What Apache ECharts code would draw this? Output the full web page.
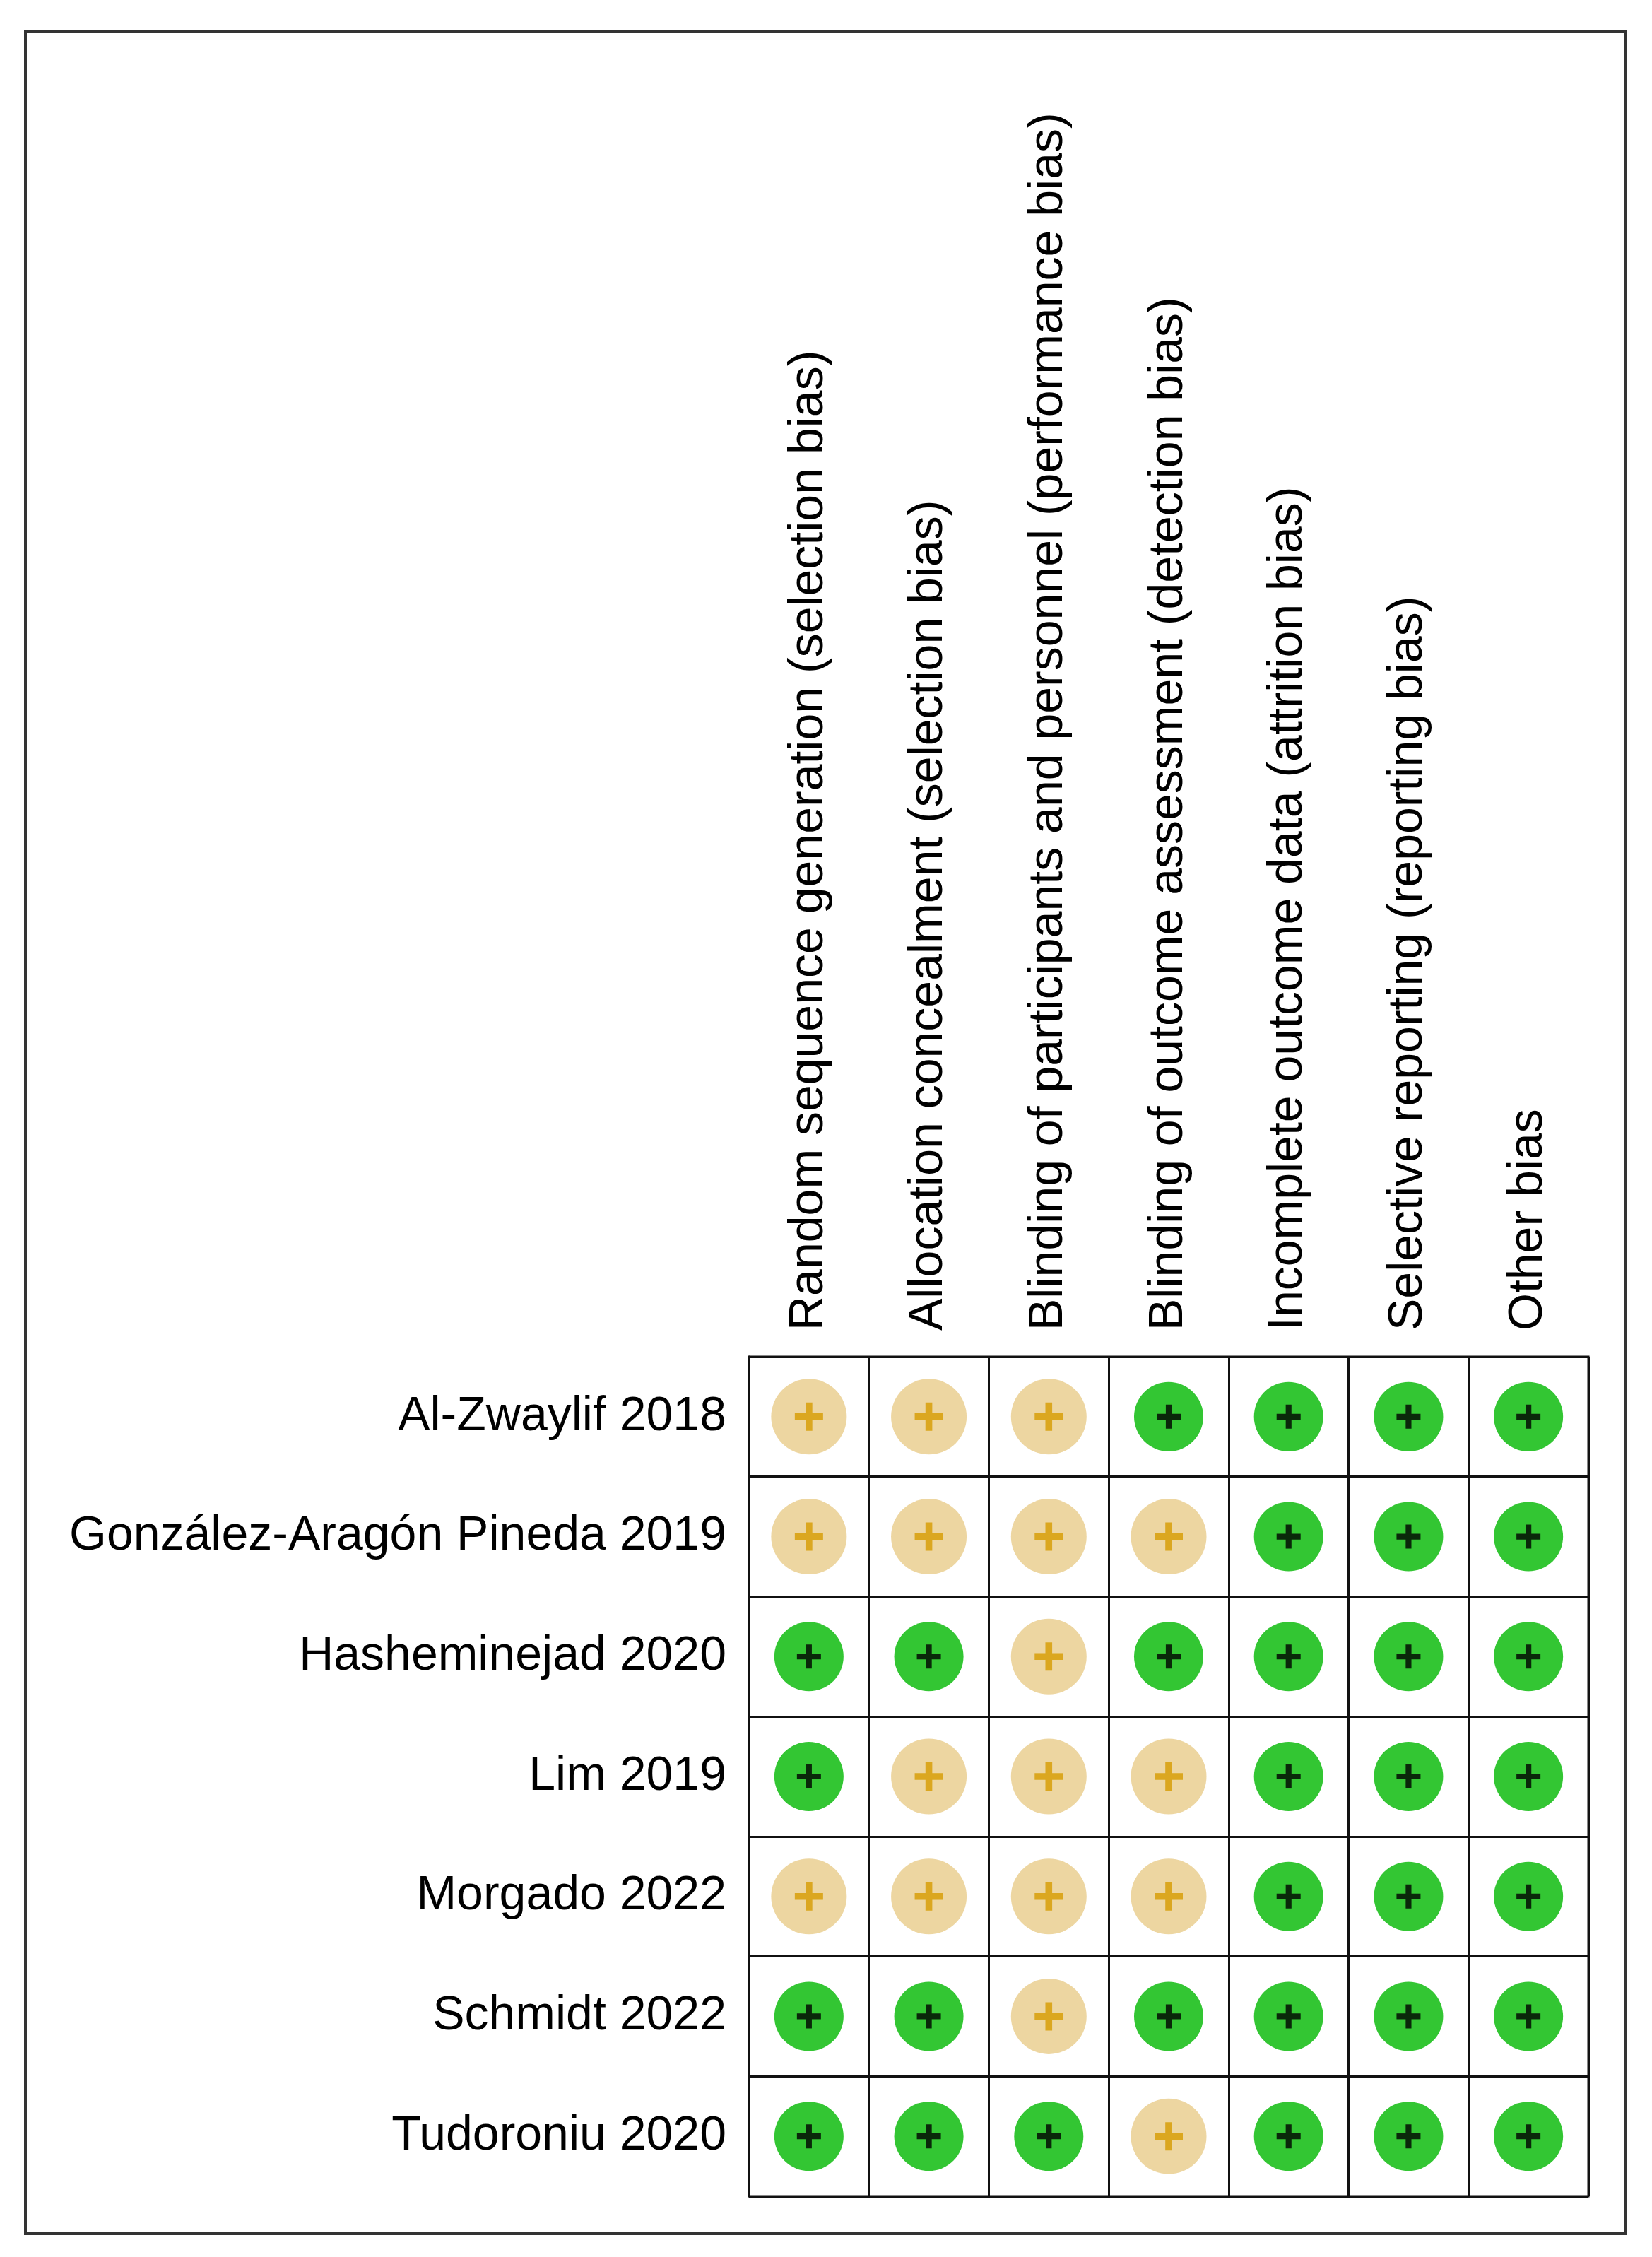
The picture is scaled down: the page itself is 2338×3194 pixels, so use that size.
<!DOCTYPE html>
<html>
<head>
<meta charset="utf-8">
<script src="https://cdn.jsdelivr.net/npm/echarts@6/dist/echarts.min.js"></script>
<style>
html,body{margin:0;padding:0;background:#fff;}
#chart{width:2338px;height:3194px;}
</style>
</head>
<body>
<div id="chart"></div>
<script>
const domains = [
  'Random sequence generation (selection bias)',
  'Allocation concealment (selection bias)',
  'Blinding of participants and personnel (performance bias)',
  'Blinding of outcome assessment (detection bias)',
  'Incomplete outcome data (attrition bias)',
  'Selective reporting (reporting bias)',
  'Other bias'
];
const studies = [
  'Al-Zwaylif 2018',
  'González-Aragón Pineda 2019',
  'Hasheminejad 2020',
  'Lim 2019',
  'Morgado 2022',
  'Schmidt 2022',
  'Tudoroniu 2020'
];
// 'G' = green circle, 'Y' = yellow circle
const judgements = [
  ['Y','Y','Y','G','G','G','G'],
  ['Y','Y','Y','Y','G','G','G'],
  ['G','G','Y','G','G','G','G'],
  ['G','Y','Y','Y','G','G','G'],
  ['Y','Y','Y','Y','G','G','G'],
  ['G','G','Y','G','G','G','G'],
  ['G','G','G','Y','G','G','G']
];

const greenPts = [], yellowPts = [];
judgements.forEach((row, r) => row.forEach((j, c) => {
  (j === 'G' ? greenPts : yellowPts).push([domains[c], studies[r]]);
}));

const PLUS = 'path://M38,0 H62 V38 H100 V62 H62 V100 H38 V62 H0 V38 H38 Z';
const FONT = "'Liberation Sans', Arial, sans-serif";

const chart = echarts.init(document.getElementById('chart'), null, {renderer:'canvas'});
chart.setOption({
  animation: false,
  backgroundColor: '#ffffff',
  graphic: [{
    type: 'rect',
    shape: {x: 36, y: 44, width: 2265, height: 3117},
    style: {fill: 'none', stroke: '#333', lineWidth: 4},
    silent: true
  }],
  grid: {
    left: 1060, right: 90, top: 1920, bottom: 86,
    show: true, borderColor: '#111', borderWidth: 3, backgroundColor: 'transparent'
  },
  xAxis: {
    type: 'category',
    data: domains,
    position: 'top',
    boundaryGap: true,
    axisLine: {show: true, lineStyle: {color: '#111', width: 3}},
    axisTick: {show: false},
    splitLine: {show: true, lineStyle: {color: '#111', width: 3}},
    axisLabel: {
      rotate: -90, margin: 37, interval: 0,
      fontSize: 68, color: '#000', fontFamily: FONT
    }
  },
  yAxis: {
    type: 'category',
    data: studies,
    inverse: true,
    boundaryGap: true,
    axisLine: {show: true, lineStyle: {color: '#111', width: 3}},
    axisTick: {show: false},
    splitLine: {show: true, lineStyle: {color: '#111', width: 3}},
    axisLabel: {
      margin: 32, interval: 0,
      fontSize: 68, color: '#000', fontFamily: FONT
    }
  },
  series: [
    {
      type: 'scatter', data: yellowPts, symbol: 'circle', symbolSize: 107,
      itemStyle: {color: '#E8CC89'}, silent: true, z: 2
    },
    {
      type: 'scatter', data: yellowPts, symbol: PLUS, symbolSize: 40,
      itemStyle: {color: '#D69B00'}, silent: true, z: 3
    },
    {
      type: 'scatter', data: greenPts, symbol: 'circle', symbolSize: 98,
      itemStyle: {color: '#00B800'}, silent: true, z: 2
    },
    {
      type: 'scatter', data: greenPts, symbol: PLUS, symbolSize: 34,
      itemStyle: {color: '#000'}, silent: true, z: 3
    }
  ]
});
</script>
</body>
</html>
